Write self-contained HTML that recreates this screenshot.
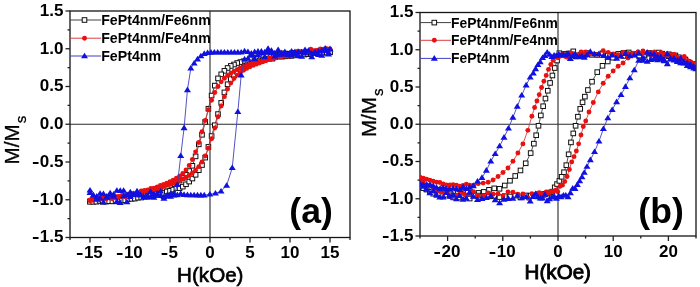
<!DOCTYPE html><html><head><meta charset="utf-8"><style>html,body{margin:0;padding:0;background:#fff;width:700px;height:287px;overflow:hidden}svg{display:block}</style></head><body>
<svg width="700" height="287" viewBox="0 0 700 287" font-family="'Liberation Sans', sans-serif" fill="#000">
<rect width="700" height="287" fill="#fff"/>
<defs><clipPath id="ca"><rect x="70" y="11" width="280" height="226.5"/></clipPath><clipPath id="cb"><rect x="420" y="12.5" width="276" height="223.5"/></clipPath></defs>
<line x1="70" y1="124.25" x2="350" y2="124.25" stroke="#2a2a2a" stroke-width="1.2"/>
<line x1="210.00" y1="11" x2="210.00" y2="237.5" stroke="#3a3a3a" stroke-width="1.2"/>
<rect x="70" y="11" width="280" height="226.5" fill="none" stroke="#151515" stroke-width="1.3"/>
<line x1="65.5" y1="237.50" x2="70" y2="237.50" stroke="#222" stroke-width="1.3"/>
<line x1="67.5" y1="218.62" x2="70" y2="218.62" stroke="#222" stroke-width="1.3"/>
<line x1="65.5" y1="199.75" x2="70" y2="199.75" stroke="#222" stroke-width="1.3"/>
<line x1="67.5" y1="180.88" x2="70" y2="180.88" stroke="#222" stroke-width="1.3"/>
<line x1="65.5" y1="162.00" x2="70" y2="162.00" stroke="#222" stroke-width="1.3"/>
<line x1="67.5" y1="143.12" x2="70" y2="143.12" stroke="#222" stroke-width="1.3"/>
<line x1="65.5" y1="124.25" x2="70" y2="124.25" stroke="#222" stroke-width="1.3"/>
<line x1="67.5" y1="105.38" x2="70" y2="105.38" stroke="#222" stroke-width="1.3"/>
<line x1="65.5" y1="86.50" x2="70" y2="86.50" stroke="#222" stroke-width="1.3"/>
<line x1="67.5" y1="67.62" x2="70" y2="67.62" stroke="#222" stroke-width="1.3"/>
<line x1="65.5" y1="48.75" x2="70" y2="48.75" stroke="#222" stroke-width="1.3"/>
<line x1="67.5" y1="29.88" x2="70" y2="29.88" stroke="#222" stroke-width="1.3"/>
<line x1="65.5" y1="11.00" x2="70" y2="11.00" stroke="#222" stroke-width="1.3"/>
<line x1="90.00" y1="237.5" x2="90.00" y2="242.5" stroke="#222" stroke-width="1.3"/>
<line x1="130.00" y1="237.5" x2="130.00" y2="242.5" stroke="#222" stroke-width="1.3"/>
<line x1="170.00" y1="237.5" x2="170.00" y2="242.5" stroke="#222" stroke-width="1.3"/>
<line x1="210.00" y1="237.5" x2="210.00" y2="242.5" stroke="#222" stroke-width="1.3"/>
<line x1="250.00" y1="237.5" x2="250.00" y2="242.5" stroke="#222" stroke-width="1.3"/>
<line x1="290.00" y1="237.5" x2="290.00" y2="242.5" stroke="#222" stroke-width="1.3"/>
<line x1="330.00" y1="237.5" x2="330.00" y2="242.5" stroke="#222" stroke-width="1.3"/>
<line x1="70.00" y1="237.5" x2="70.00" y2="240.0" stroke="#222" stroke-width="1.3"/>
<line x1="110.00" y1="237.5" x2="110.00" y2="240.0" stroke="#222" stroke-width="1.3"/>
<line x1="150.00" y1="237.5" x2="150.00" y2="240.0" stroke="#222" stroke-width="1.3"/>
<line x1="190.00" y1="237.5" x2="190.00" y2="240.0" stroke="#222" stroke-width="1.3"/>
<line x1="230.00" y1="237.5" x2="230.00" y2="240.0" stroke="#222" stroke-width="1.3"/>
<line x1="270.00" y1="237.5" x2="270.00" y2="240.0" stroke="#222" stroke-width="1.3"/>
<line x1="310.00" y1="237.5" x2="310.00" y2="240.0" stroke="#222" stroke-width="1.3"/>
<line x1="350.00" y1="237.5" x2="350.00" y2="240.0" stroke="#222" stroke-width="1.3"/>
<text x="63.50" y="242.30" text-anchor="end" font-weight="bold" font-size="17">1.5</text>
<text transform="translate(31.99,242.30) scale(1.32,0.92)" font-weight="bold" font-size="17">-</text>
<text x="63.50" y="204.55" text-anchor="end" font-weight="bold" font-size="17">1.0</text>
<text transform="translate(31.99,204.55) scale(1.32,0.92)" font-weight="bold" font-size="17">-</text>
<text x="63.50" y="166.80" text-anchor="end" font-weight="bold" font-size="17">0.5</text>
<text transform="translate(31.99,166.80) scale(1.32,0.92)" font-weight="bold" font-size="17">-</text>
<text x="63.50" y="129.05" text-anchor="end" font-weight="bold" font-size="17">0.0</text>
<text x="63.50" y="91.30" text-anchor="end" font-weight="bold" font-size="17">0.5</text>
<text x="63.50" y="53.55" text-anchor="end" font-weight="bold" font-size="17">1.0</text>
<text x="63.50" y="15.80" text-anchor="end" font-weight="bold" font-size="17">1.5</text>
<text x="83.90" y="258.1" font-weight="bold" font-size="17">15</text>
<text transform="translate(76.02,258.10) scale(1.32,0.92)" font-weight="bold" font-size="17">-</text>
<text x="123.90" y="258.1" font-weight="bold" font-size="17">10</text>
<text transform="translate(116.02,258.10) scale(1.32,0.92)" font-weight="bold" font-size="17">-</text>
<text x="168.62" y="258.1" font-weight="bold" font-size="17">5</text>
<text transform="translate(160.75,258.10) scale(1.32,0.92)" font-weight="bold" font-size="17">-</text>
<text x="210.00" y="258.1" text-anchor="middle" font-weight="bold" font-size="17">0</text>
<text x="250.00" y="258.1" text-anchor="middle" font-weight="bold" font-size="17">5</text>
<text x="290.00" y="258.1" text-anchor="middle" font-weight="bold" font-size="17">10</text>
<text x="330.00" y="258.1" text-anchor="middle" font-weight="bold" font-size="17">15</text>
<g clip-path="url(#ca)">
<path d="M330.00 52.15L326.80 52.02L323.60 52.31L320.40 52.64L317.20 52.50L314.00 52.82L310.80 52.43L307.60 51.96L304.40 52.90L301.20 53.08L298.00 52.71L294.80 52.90L291.60 53.16L288.40 53.78L285.20 53.56L282.00 53.47L278.80 54.67L275.60 54.58L272.40 55.59L269.20 55.70L266.00 56.38L262.80 56.20L259.60 57.34L256.40 57.50L253.20 58.41L250.00 59.38L246.80 60.93L243.60 61.25L240.40 62.07L237.20 63.03L234.00 64.50L230.80 65.94L227.60 67.97L224.40 70.83L221.20 74.33L218.00 78.38L214.80 85.61L211.60 95.56L208.40 108.72L205.20 121.89L202.00 134.78L198.80 144.32L195.60 156.38L192.40 165.77L189.20 171.04L186.00 174.83L182.80 177.97L179.60 180.54L176.40 182.67L173.20 184.14L170.00 185.83L166.80 187.67L163.60 188.55L160.40 189.49L157.20 190.81L154.00 191.39L150.80 192.59L147.60 193.04L144.40 193.41L141.20 195.02L138.00 195.23L134.80 196.10L131.60 196.37L128.40 197.46L125.20 197.66L122.00 197.95L118.80 197.90L115.60 198.23L112.40 199.77L109.20 199.94L106.00 199.68L102.80 201.25L99.60 200.91L96.40 201.08L93.20 200.78L90.00 201.33L90.00 201.79L93.20 201.80L96.40 201.72L99.60 200.88L102.80 201.72L106.00 201.60L109.20 201.23L112.40 201.36L115.60 201.28L118.80 201.43L122.00 200.55L125.20 200.29L128.40 199.08L131.60 198.83L134.80 198.60L138.00 197.69L141.20 197.51L144.40 196.21L147.60 196.01L150.80 195.04L154.00 195.14L157.20 193.62L160.40 193.75L163.60 193.08L166.80 191.43L170.00 190.77L173.20 189.55L176.40 188.12L179.60 188.13L182.80 186.65L186.00 184.27L189.20 181.57L192.40 178.53L195.60 174.79L198.80 170.18L202.00 165.03L205.20 157.62L208.40 146.90L211.60 136.06L214.80 125.21L218.00 114.07L221.20 102.84L224.40 92.40L227.60 84.23L230.80 79.05L234.00 75.17L237.20 72.04L240.40 69.47L243.60 67.38L246.80 65.48L250.00 64.22L253.20 62.44L256.40 62.02L259.60 60.51L262.80 60.20L266.00 58.99L269.20 58.59L272.40 58.66L275.60 57.05L278.80 56.46L282.00 56.65L285.20 56.34L288.40 55.90L291.60 55.90L294.80 54.62L298.00 55.04L301.20 54.49L304.40 54.52L307.60 54.15L310.80 54.15L314.00 52.73L317.20 53.10L320.40 52.35L323.60 52.55L326.80 52.66L330.00 52.30" fill="none" stroke="#404040" stroke-width="0.9"/>
<g fill="#fff" stroke="#111" stroke-width="1">
<rect x="327.70" y="49.85" width="4.6" height="4.6"/>
<rect x="324.50" y="49.72" width="4.6" height="4.6"/>
<rect x="321.30" y="50.01" width="4.6" height="4.6"/>
<rect x="318.10" y="50.34" width="4.6" height="4.6"/>
<rect x="314.90" y="50.20" width="4.6" height="4.6"/>
<rect x="311.70" y="50.52" width="4.6" height="4.6"/>
<rect x="308.50" y="50.13" width="4.6" height="4.6"/>
<rect x="305.30" y="49.66" width="4.6" height="4.6"/>
<rect x="302.10" y="50.60" width="4.6" height="4.6"/>
<rect x="298.90" y="50.78" width="4.6" height="4.6"/>
<rect x="295.70" y="50.41" width="4.6" height="4.6"/>
<rect x="292.50" y="50.60" width="4.6" height="4.6"/>
<rect x="289.30" y="50.86" width="4.6" height="4.6"/>
<rect x="286.10" y="51.48" width="4.6" height="4.6"/>
<rect x="282.90" y="51.26" width="4.6" height="4.6"/>
<rect x="279.70" y="51.17" width="4.6" height="4.6"/>
<rect x="276.50" y="52.37" width="4.6" height="4.6"/>
<rect x="273.30" y="52.28" width="4.6" height="4.6"/>
<rect x="270.10" y="53.29" width="4.6" height="4.6"/>
<rect x="266.90" y="53.40" width="4.6" height="4.6"/>
<rect x="263.70" y="54.08" width="4.6" height="4.6"/>
<rect x="260.50" y="53.90" width="4.6" height="4.6"/>
<rect x="257.30" y="55.04" width="4.6" height="4.6"/>
<rect x="254.10" y="55.20" width="4.6" height="4.6"/>
<rect x="250.90" y="56.11" width="4.6" height="4.6"/>
<rect x="247.70" y="57.08" width="4.6" height="4.6"/>
<rect x="244.50" y="58.63" width="4.6" height="4.6"/>
<rect x="241.30" y="58.95" width="4.6" height="4.6"/>
<rect x="238.10" y="59.77" width="4.6" height="4.6"/>
<rect x="234.90" y="60.73" width="4.6" height="4.6"/>
<rect x="231.70" y="62.20" width="4.6" height="4.6"/>
<rect x="228.50" y="63.64" width="4.6" height="4.6"/>
<rect x="225.30" y="65.67" width="4.6" height="4.6"/>
<rect x="222.10" y="68.53" width="4.6" height="4.6"/>
<rect x="218.90" y="72.03" width="4.6" height="4.6"/>
<rect x="215.70" y="76.08" width="4.6" height="4.6"/>
<rect x="212.50" y="83.31" width="4.6" height="4.6"/>
<rect x="209.30" y="93.26" width="4.6" height="4.6"/>
<rect x="206.10" y="106.42" width="4.6" height="4.6"/>
<rect x="202.90" y="119.59" width="4.6" height="4.6"/>
<rect x="199.70" y="132.48" width="4.6" height="4.6"/>
<rect x="196.50" y="142.02" width="4.6" height="4.6"/>
<rect x="193.30" y="154.08" width="4.6" height="4.6"/>
<rect x="190.10" y="163.47" width="4.6" height="4.6"/>
<rect x="186.90" y="168.74" width="4.6" height="4.6"/>
<rect x="183.70" y="172.53" width="4.6" height="4.6"/>
<rect x="180.50" y="175.67" width="4.6" height="4.6"/>
<rect x="177.30" y="178.24" width="4.6" height="4.6"/>
<rect x="174.10" y="180.37" width="4.6" height="4.6"/>
<rect x="170.90" y="181.84" width="4.6" height="4.6"/>
<rect x="167.70" y="183.53" width="4.6" height="4.6"/>
<rect x="164.50" y="185.37" width="4.6" height="4.6"/>
<rect x="161.30" y="186.25" width="4.6" height="4.6"/>
<rect x="158.10" y="187.19" width="4.6" height="4.6"/>
<rect x="154.90" y="188.51" width="4.6" height="4.6"/>
<rect x="151.70" y="189.09" width="4.6" height="4.6"/>
<rect x="148.50" y="190.29" width="4.6" height="4.6"/>
<rect x="145.30" y="190.74" width="4.6" height="4.6"/>
<rect x="142.10" y="191.11" width="4.6" height="4.6"/>
<rect x="138.90" y="192.72" width="4.6" height="4.6"/>
<rect x="135.70" y="192.93" width="4.6" height="4.6"/>
<rect x="132.50" y="193.80" width="4.6" height="4.6"/>
<rect x="129.30" y="194.07" width="4.6" height="4.6"/>
<rect x="126.10" y="195.16" width="4.6" height="4.6"/>
<rect x="122.90" y="195.36" width="4.6" height="4.6"/>
<rect x="119.70" y="195.65" width="4.6" height="4.6"/>
<rect x="116.50" y="195.60" width="4.6" height="4.6"/>
<rect x="113.30" y="195.93" width="4.6" height="4.6"/>
<rect x="110.10" y="197.47" width="4.6" height="4.6"/>
<rect x="106.90" y="197.64" width="4.6" height="4.6"/>
<rect x="103.70" y="197.38" width="4.6" height="4.6"/>
<rect x="100.50" y="198.95" width="4.6" height="4.6"/>
<rect x="97.30" y="198.61" width="4.6" height="4.6"/>
<rect x="94.10" y="198.78" width="4.6" height="4.6"/>
<rect x="90.90" y="198.48" width="4.6" height="4.6"/>
<rect x="87.70" y="199.03" width="4.6" height="4.6"/>
<rect x="87.70" y="199.49" width="4.6" height="4.6"/>
<rect x="90.90" y="199.50" width="4.6" height="4.6"/>
<rect x="94.10" y="199.42" width="4.6" height="4.6"/>
<rect x="97.30" y="198.58" width="4.6" height="4.6"/>
<rect x="100.50" y="199.42" width="4.6" height="4.6"/>
<rect x="103.70" y="199.30" width="4.6" height="4.6"/>
<rect x="106.90" y="198.93" width="4.6" height="4.6"/>
<rect x="110.10" y="199.06" width="4.6" height="4.6"/>
<rect x="113.30" y="198.98" width="4.6" height="4.6"/>
<rect x="116.50" y="199.13" width="4.6" height="4.6"/>
<rect x="119.70" y="198.25" width="4.6" height="4.6"/>
<rect x="122.90" y="197.99" width="4.6" height="4.6"/>
<rect x="126.10" y="196.78" width="4.6" height="4.6"/>
<rect x="129.30" y="196.53" width="4.6" height="4.6"/>
<rect x="132.50" y="196.30" width="4.6" height="4.6"/>
<rect x="135.70" y="195.39" width="4.6" height="4.6"/>
<rect x="138.90" y="195.21" width="4.6" height="4.6"/>
<rect x="142.10" y="193.91" width="4.6" height="4.6"/>
<rect x="145.30" y="193.71" width="4.6" height="4.6"/>
<rect x="148.50" y="192.74" width="4.6" height="4.6"/>
<rect x="151.70" y="192.84" width="4.6" height="4.6"/>
<rect x="154.90" y="191.32" width="4.6" height="4.6"/>
<rect x="158.10" y="191.45" width="4.6" height="4.6"/>
<rect x="161.30" y="190.78" width="4.6" height="4.6"/>
<rect x="164.50" y="189.13" width="4.6" height="4.6"/>
<rect x="167.70" y="188.47" width="4.6" height="4.6"/>
<rect x="170.90" y="187.25" width="4.6" height="4.6"/>
<rect x="174.10" y="185.82" width="4.6" height="4.6"/>
<rect x="177.30" y="185.83" width="4.6" height="4.6"/>
<rect x="180.50" y="184.35" width="4.6" height="4.6"/>
<rect x="183.70" y="181.97" width="4.6" height="4.6"/>
<rect x="186.90" y="179.27" width="4.6" height="4.6"/>
<rect x="190.10" y="176.23" width="4.6" height="4.6"/>
<rect x="193.30" y="172.49" width="4.6" height="4.6"/>
<rect x="196.50" y="167.88" width="4.6" height="4.6"/>
<rect x="199.70" y="162.73" width="4.6" height="4.6"/>
<rect x="202.90" y="155.32" width="4.6" height="4.6"/>
<rect x="206.10" y="144.60" width="4.6" height="4.6"/>
<rect x="209.30" y="133.76" width="4.6" height="4.6"/>
<rect x="212.50" y="122.91" width="4.6" height="4.6"/>
<rect x="215.70" y="111.77" width="4.6" height="4.6"/>
<rect x="218.90" y="100.54" width="4.6" height="4.6"/>
<rect x="222.10" y="90.10" width="4.6" height="4.6"/>
<rect x="225.30" y="81.93" width="4.6" height="4.6"/>
<rect x="228.50" y="76.75" width="4.6" height="4.6"/>
<rect x="231.70" y="72.87" width="4.6" height="4.6"/>
<rect x="234.90" y="69.74" width="4.6" height="4.6"/>
<rect x="238.10" y="67.17" width="4.6" height="4.6"/>
<rect x="241.30" y="65.08" width="4.6" height="4.6"/>
<rect x="244.50" y="63.18" width="4.6" height="4.6"/>
<rect x="247.70" y="61.92" width="4.6" height="4.6"/>
<rect x="250.90" y="60.14" width="4.6" height="4.6"/>
<rect x="254.10" y="59.72" width="4.6" height="4.6"/>
<rect x="257.30" y="58.21" width="4.6" height="4.6"/>
<rect x="260.50" y="57.90" width="4.6" height="4.6"/>
<rect x="263.70" y="56.69" width="4.6" height="4.6"/>
<rect x="266.90" y="56.29" width="4.6" height="4.6"/>
<rect x="270.10" y="56.36" width="4.6" height="4.6"/>
<rect x="273.30" y="54.75" width="4.6" height="4.6"/>
<rect x="276.50" y="54.16" width="4.6" height="4.6"/>
<rect x="279.70" y="54.35" width="4.6" height="4.6"/>
<rect x="282.90" y="54.04" width="4.6" height="4.6"/>
<rect x="286.10" y="53.60" width="4.6" height="4.6"/>
<rect x="289.30" y="53.60" width="4.6" height="4.6"/>
<rect x="292.50" y="52.32" width="4.6" height="4.6"/>
<rect x="295.70" y="52.74" width="4.6" height="4.6"/>
<rect x="298.90" y="52.19" width="4.6" height="4.6"/>
<rect x="302.10" y="52.22" width="4.6" height="4.6"/>
<rect x="305.30" y="51.85" width="4.6" height="4.6"/>
<rect x="308.50" y="51.85" width="4.6" height="4.6"/>
<rect x="311.70" y="50.43" width="4.6" height="4.6"/>
<rect x="314.90" y="50.80" width="4.6" height="4.6"/>
<rect x="318.10" y="50.05" width="4.6" height="4.6"/>
<rect x="321.30" y="50.25" width="4.6" height="4.6"/>
<rect x="324.50" y="50.36" width="4.6" height="4.6"/>
<rect x="327.70" y="50.00" width="4.6" height="4.6"/>
</g>
<path d="M330.00 48.98L326.80 48.81L323.60 49.38L320.40 49.62L317.20 50.76L314.00 50.67L310.80 49.19L307.60 51.34L304.40 52.06L301.20 51.46L298.00 51.14L294.80 53.82L291.60 53.43L288.40 54.34L285.20 55.82L282.00 54.63L278.80 55.88L275.60 56.57L272.40 57.81L269.20 58.03L266.00 59.33L262.80 60.10L259.60 61.29L256.40 62.24L253.20 63.06L250.00 64.28L246.80 65.49L243.60 66.77L240.40 68.14L237.20 69.64L234.00 71.31L230.80 73.23L227.60 75.50L224.40 78.29L221.20 81.85L218.00 86.47L214.80 92.51L211.60 100.24L208.40 109.69L205.20 120.48L202.00 131.76L198.80 142.49L195.60 151.86L192.40 159.49L189.20 165.42L186.00 169.95L182.80 173.41L179.60 176.11L176.40 178.29L173.20 180.11L170.00 181.69L166.80 183.09L163.60 184.37L160.40 185.44L157.20 186.85L154.00 188.12L150.80 188.40L147.60 190.02L144.40 190.48L141.20 190.83L138.00 193.10L134.80 194.26L131.60 193.33L128.40 194.14L125.20 194.98L122.00 195.34L118.80 196.57L115.60 197.57L112.40 197.03L109.20 198.09L106.00 199.01L102.80 197.78L99.60 198.57L96.40 198.56L93.20 199.93L90.00 199.98L90.00 200.70L93.20 200.35L96.40 199.26L99.60 199.70L102.80 198.51L106.00 198.18L109.20 196.54L112.40 198.72L115.60 196.57L118.80 196.85L122.00 196.31L125.20 196.87L128.40 195.57L131.60 194.07L134.80 194.07L138.00 193.28L141.20 192.83L144.40 191.19L147.60 191.11L150.80 191.29L154.00 189.65L157.20 189.07L160.40 188.24L163.60 186.52L166.80 185.28L170.00 184.22L173.20 183.01L176.40 181.73L179.60 180.36L182.80 178.86L186.00 177.19L189.20 175.27L192.40 173.00L195.60 170.21L198.80 166.65L202.00 162.03L205.20 155.99L208.40 148.26L211.60 138.81L214.80 128.02L218.00 116.74L221.20 106.01L224.40 96.64L227.60 89.01L230.80 83.08L234.00 78.55L237.20 75.09L240.40 72.39L243.60 70.21L246.80 68.39L250.00 66.81L253.20 65.41L256.40 64.13L259.60 63.03L262.80 61.89L266.00 60.85L269.20 59.43L272.40 58.76L275.60 58.03L278.80 56.35L282.00 56.76L285.20 55.94L288.40 56.32L291.60 53.14L294.80 52.98L298.00 52.44L301.20 52.08L304.40 51.99L307.60 51.43L310.80 51.34L314.00 50.88L317.20 50.30L320.40 48.83L323.60 49.21L326.80 49.36L330.00 49.46" fill="none" stroke="#d84040" stroke-width="0.9"/>
<g fill="#e81010">
<circle cx="330.00" cy="48.98" r="2.45"/>
<circle cx="326.80" cy="48.81" r="2.45"/>
<circle cx="323.60" cy="49.38" r="2.45"/>
<circle cx="320.40" cy="49.62" r="2.45"/>
<circle cx="317.20" cy="50.76" r="2.45"/>
<circle cx="314.00" cy="50.67" r="2.45"/>
<circle cx="310.80" cy="49.19" r="2.45"/>
<circle cx="307.60" cy="51.34" r="2.45"/>
<circle cx="304.40" cy="52.06" r="2.45"/>
<circle cx="301.20" cy="51.46" r="2.45"/>
<circle cx="298.00" cy="51.14" r="2.45"/>
<circle cx="294.80" cy="53.82" r="2.45"/>
<circle cx="291.60" cy="53.43" r="2.45"/>
<circle cx="288.40" cy="54.34" r="2.45"/>
<circle cx="285.20" cy="55.82" r="2.45"/>
<circle cx="282.00" cy="54.63" r="2.45"/>
<circle cx="278.80" cy="55.88" r="2.45"/>
<circle cx="275.60" cy="56.57" r="2.45"/>
<circle cx="272.40" cy="57.81" r="2.45"/>
<circle cx="269.20" cy="58.03" r="2.45"/>
<circle cx="266.00" cy="59.33" r="2.45"/>
<circle cx="262.80" cy="60.10" r="2.45"/>
<circle cx="259.60" cy="61.29" r="2.45"/>
<circle cx="256.40" cy="62.24" r="2.45"/>
<circle cx="253.20" cy="63.06" r="2.45"/>
<circle cx="250.00" cy="64.28" r="2.45"/>
<circle cx="246.80" cy="65.49" r="2.45"/>
<circle cx="243.60" cy="66.77" r="2.45"/>
<circle cx="240.40" cy="68.14" r="2.45"/>
<circle cx="237.20" cy="69.64" r="2.45"/>
<circle cx="234.00" cy="71.31" r="2.45"/>
<circle cx="230.80" cy="73.23" r="2.45"/>
<circle cx="227.60" cy="75.50" r="2.45"/>
<circle cx="224.40" cy="78.29" r="2.45"/>
<circle cx="221.20" cy="81.85" r="2.45"/>
<circle cx="218.00" cy="86.47" r="2.45"/>
<circle cx="214.80" cy="92.51" r="2.45"/>
<circle cx="211.60" cy="100.24" r="2.45"/>
<circle cx="208.40" cy="109.69" r="2.45"/>
<circle cx="205.20" cy="120.48" r="2.45"/>
<circle cx="202.00" cy="131.76" r="2.45"/>
<circle cx="198.80" cy="142.49" r="2.45"/>
<circle cx="195.60" cy="151.86" r="2.45"/>
<circle cx="192.40" cy="159.49" r="2.45"/>
<circle cx="189.20" cy="165.42" r="2.45"/>
<circle cx="186.00" cy="169.95" r="2.45"/>
<circle cx="182.80" cy="173.41" r="2.45"/>
<circle cx="179.60" cy="176.11" r="2.45"/>
<circle cx="176.40" cy="178.29" r="2.45"/>
<circle cx="173.20" cy="180.11" r="2.45"/>
<circle cx="170.00" cy="181.69" r="2.45"/>
<circle cx="166.80" cy="183.09" r="2.45"/>
<circle cx="163.60" cy="184.37" r="2.45"/>
<circle cx="160.40" cy="185.44" r="2.45"/>
<circle cx="157.20" cy="186.85" r="2.45"/>
<circle cx="154.00" cy="188.12" r="2.45"/>
<circle cx="150.80" cy="188.40" r="2.45"/>
<circle cx="147.60" cy="190.02" r="2.45"/>
<circle cx="144.40" cy="190.48" r="2.45"/>
<circle cx="141.20" cy="190.83" r="2.45"/>
<circle cx="138.00" cy="193.10" r="2.45"/>
<circle cx="134.80" cy="194.26" r="2.45"/>
<circle cx="131.60" cy="193.33" r="2.45"/>
<circle cx="128.40" cy="194.14" r="2.45"/>
<circle cx="125.20" cy="194.98" r="2.45"/>
<circle cx="122.00" cy="195.34" r="2.45"/>
<circle cx="118.80" cy="196.57" r="2.45"/>
<circle cx="115.60" cy="197.57" r="2.45"/>
<circle cx="112.40" cy="197.03" r="2.45"/>
<circle cx="109.20" cy="198.09" r="2.45"/>
<circle cx="106.00" cy="199.01" r="2.45"/>
<circle cx="102.80" cy="197.78" r="2.45"/>
<circle cx="99.60" cy="198.57" r="2.45"/>
<circle cx="96.40" cy="198.56" r="2.45"/>
<circle cx="93.20" cy="199.93" r="2.45"/>
<circle cx="90.00" cy="199.98" r="2.45"/>
<circle cx="90.00" cy="200.70" r="2.45"/>
<circle cx="93.20" cy="200.35" r="2.45"/>
<circle cx="96.40" cy="199.26" r="2.45"/>
<circle cx="99.60" cy="199.70" r="2.45"/>
<circle cx="102.80" cy="198.51" r="2.45"/>
<circle cx="106.00" cy="198.18" r="2.45"/>
<circle cx="109.20" cy="196.54" r="2.45"/>
<circle cx="112.40" cy="198.72" r="2.45"/>
<circle cx="115.60" cy="196.57" r="2.45"/>
<circle cx="118.80" cy="196.85" r="2.45"/>
<circle cx="122.00" cy="196.31" r="2.45"/>
<circle cx="125.20" cy="196.87" r="2.45"/>
<circle cx="128.40" cy="195.57" r="2.45"/>
<circle cx="131.60" cy="194.07" r="2.45"/>
<circle cx="134.80" cy="194.07" r="2.45"/>
<circle cx="138.00" cy="193.28" r="2.45"/>
<circle cx="141.20" cy="192.83" r="2.45"/>
<circle cx="144.40" cy="191.19" r="2.45"/>
<circle cx="147.60" cy="191.11" r="2.45"/>
<circle cx="150.80" cy="191.29" r="2.45"/>
<circle cx="154.00" cy="189.65" r="2.45"/>
<circle cx="157.20" cy="189.07" r="2.45"/>
<circle cx="160.40" cy="188.24" r="2.45"/>
<circle cx="163.60" cy="186.52" r="2.45"/>
<circle cx="166.80" cy="185.28" r="2.45"/>
<circle cx="170.00" cy="184.22" r="2.45"/>
<circle cx="173.20" cy="183.01" r="2.45"/>
<circle cx="176.40" cy="181.73" r="2.45"/>
<circle cx="179.60" cy="180.36" r="2.45"/>
<circle cx="182.80" cy="178.86" r="2.45"/>
<circle cx="186.00" cy="177.19" r="2.45"/>
<circle cx="189.20" cy="175.27" r="2.45"/>
<circle cx="192.40" cy="173.00" r="2.45"/>
<circle cx="195.60" cy="170.21" r="2.45"/>
<circle cx="198.80" cy="166.65" r="2.45"/>
<circle cx="202.00" cy="162.03" r="2.45"/>
<circle cx="205.20" cy="155.99" r="2.45"/>
<circle cx="208.40" cy="148.26" r="2.45"/>
<circle cx="211.60" cy="138.81" r="2.45"/>
<circle cx="214.80" cy="128.02" r="2.45"/>
<circle cx="218.00" cy="116.74" r="2.45"/>
<circle cx="221.20" cy="106.01" r="2.45"/>
<circle cx="224.40" cy="96.64" r="2.45"/>
<circle cx="227.60" cy="89.01" r="2.45"/>
<circle cx="230.80" cy="83.08" r="2.45"/>
<circle cx="234.00" cy="78.55" r="2.45"/>
<circle cx="237.20" cy="75.09" r="2.45"/>
<circle cx="240.40" cy="72.39" r="2.45"/>
<circle cx="243.60" cy="70.21" r="2.45"/>
<circle cx="246.80" cy="68.39" r="2.45"/>
<circle cx="250.00" cy="66.81" r="2.45"/>
<circle cx="253.20" cy="65.41" r="2.45"/>
<circle cx="256.40" cy="64.13" r="2.45"/>
<circle cx="259.60" cy="63.03" r="2.45"/>
<circle cx="262.80" cy="61.89" r="2.45"/>
<circle cx="266.00" cy="60.85" r="2.45"/>
<circle cx="269.20" cy="59.43" r="2.45"/>
<circle cx="272.40" cy="58.76" r="2.45"/>
<circle cx="275.60" cy="58.03" r="2.45"/>
<circle cx="278.80" cy="56.35" r="2.45"/>
<circle cx="282.00" cy="56.76" r="2.45"/>
<circle cx="285.20" cy="55.94" r="2.45"/>
<circle cx="288.40" cy="56.32" r="2.45"/>
<circle cx="291.60" cy="53.14" r="2.45"/>
<circle cx="294.80" cy="52.98" r="2.45"/>
<circle cx="298.00" cy="52.44" r="2.45"/>
<circle cx="301.20" cy="52.08" r="2.45"/>
<circle cx="304.40" cy="51.99" r="2.45"/>
<circle cx="307.60" cy="51.43" r="2.45"/>
<circle cx="310.80" cy="51.34" r="2.45"/>
<circle cx="314.00" cy="50.88" r="2.45"/>
<circle cx="317.20" cy="50.30" r="2.45"/>
<circle cx="320.40" cy="48.83" r="2.45"/>
<circle cx="323.60" cy="49.21" r="2.45"/>
<circle cx="326.80" cy="49.36" r="2.45"/>
<circle cx="330.00" cy="49.46" r="2.45"/>
</g>
<path d="M328.56 52.59L325.20 48.37L321.84 50.44L318.48 51.27L315.12 52.06L311.76 53.51L308.40 51.55L305.04 49.78L301.68 52.18L298.32 51.88L294.96 51.88L291.60 51.27L288.24 54.50L284.88 51.95L281.52 53.14L278.16 49.87L274.80 53.02L271.44 50.49L268.08 48.73L264.72 52.22L261.36 52.84L258.00 51.45L254.64 51.94L251.28 53.41L247.92 51.75L244.56 51.19L241.20 52.37L237.84 52.34L234.48 52.34L231.12 52.33L227.76 52.33L224.40 52.34L221.04 52.34L217.68 52.36L214.32 52.37L210.96 52.47L207.60 52.75L204.24 53.70L200.88 56.03L197.52 59.14L194.16 63.25L190.80 68.33L187.44 89.92L184.08 127.91L180.72 155.88L177.36 184.74L174.00 195.35L170.64 196.49L167.28 194.96L163.92 196.88L160.56 195.74L157.20 195.57L153.84 197.44L150.48 196.73L147.12 196.04L143.76 196.98L140.40 195.26L137.04 191.17L133.68 195.08L130.32 196.74L126.96 202.03L123.60 195.80L120.24 202.88L116.88 201.28L113.52 194.46L110.16 194.93L106.80 197.53L103.44 202.25L100.08 198.22L96.72 199.15L93.36 195.18L90.00 190.29L90.00 192.76L93.36 195.40L96.72 196.44L100.08 193.50L103.44 193.83L106.80 196.42L110.16 193.08L113.52 196.45L116.88 190.49L120.24 190.64L123.60 190.61L126.96 194.76L130.32 192.18L133.68 193.92L137.04 194.63L140.40 194.54L143.76 197.12L147.12 197.54L150.48 191.68L153.84 194.33L157.20 193.30L160.56 191.28L163.92 198.56L167.28 196.11L170.64 193.66L174.00 193.45L177.36 194.94L180.72 193.70L184.08 194.71L187.44 194.89L190.80 194.99L194.16 195.08L197.52 195.16L200.88 195.21L204.24 195.21L209.84 194.29L215.44 193.29L221.04 191.28L226.64 185.51L232.24 167.79L237.84 111.81L241.20 75.25L244.56 59.16L247.92 58.51L251.28 55.07L254.64 58.90L258.00 55.05L261.36 51.28L264.72 57.06L268.08 50.81L271.44 52.67L274.80 56.25L278.16 54.76L281.52 54.60L284.88 53.48L288.24 54.72L291.60 55.45L294.96 54.02L298.32 55.89L301.68 56.54L305.04 53.22L308.40 50.72L311.76 57.06L315.12 52.98L318.48 54.68L321.84 55.52L325.20 50.67L328.56 54.28L330.00 48.95" fill="none" stroke="#4040c0" stroke-width="0.9"/>
<g fill="#1010e0">
<path d="M328.56 49.23L332.06 54.83L325.06 54.83Z"/>
<path d="M325.20 45.01L328.70 50.61L321.70 50.61Z"/>
<path d="M321.84 47.08L325.34 52.68L318.34 52.68Z"/>
<path d="M318.48 47.91L321.98 53.51L314.98 53.51Z"/>
<path d="M315.12 48.70L318.62 54.30L311.62 54.30Z"/>
<path d="M311.76 50.15L315.26 55.75L308.26 55.75Z"/>
<path d="M308.40 48.19L311.90 53.79L304.90 53.79Z"/>
<path d="M305.04 46.42L308.54 52.02L301.54 52.02Z"/>
<path d="M301.68 48.82L305.18 54.42L298.18 54.42Z"/>
<path d="M298.32 48.52L301.82 54.12L294.82 54.12Z"/>
<path d="M294.96 48.52L298.46 54.12L291.46 54.12Z"/>
<path d="M291.60 47.91L295.10 53.51L288.10 53.51Z"/>
<path d="M288.24 51.14L291.74 56.74L284.74 56.74Z"/>
<path d="M284.88 48.59L288.38 54.19L281.38 54.19Z"/>
<path d="M281.52 49.78L285.02 55.38L278.02 55.38Z"/>
<path d="M278.16 46.51L281.66 52.11L274.66 52.11Z"/>
<path d="M274.80 49.66L278.30 55.26L271.30 55.26Z"/>
<path d="M271.44 47.13L274.94 52.73L267.94 52.73Z"/>
<path d="M268.08 45.37L271.58 50.97L264.58 50.97Z"/>
<path d="M264.72 48.86L268.22 54.46L261.22 54.46Z"/>
<path d="M261.36 49.48L264.86 55.08L257.86 55.08Z"/>
<path d="M258.00 48.09L261.50 53.69L254.50 53.69Z"/>
<path d="M254.64 48.58L258.14 54.18L251.14 54.18Z"/>
<path d="M251.28 50.05L254.78 55.65L247.78 55.65Z"/>
<path d="M247.92 48.39L251.42 53.99L244.42 53.99Z"/>
<path d="M244.56 47.83L248.06 53.43L241.06 53.43Z"/>
<path d="M241.20 49.01L244.70 54.61L237.70 54.61Z"/>
<path d="M237.84 48.98L241.34 54.58L234.34 54.58Z"/>
<path d="M234.48 48.98L237.98 54.58L230.98 54.58Z"/>
<path d="M231.12 48.97L234.62 54.57L227.62 54.57Z"/>
<path d="M227.76 48.97L231.26 54.57L224.26 54.57Z"/>
<path d="M224.40 48.98L227.90 54.58L220.90 54.58Z"/>
<path d="M221.04 48.98L224.54 54.58L217.54 54.58Z"/>
<path d="M217.68 49.00L221.18 54.60L214.18 54.60Z"/>
<path d="M214.32 49.01L217.82 54.61L210.82 54.61Z"/>
<path d="M210.96 49.11L214.46 54.71L207.46 54.71Z"/>
<path d="M207.60 49.39L211.10 54.99L204.10 54.99Z"/>
<path d="M204.24 50.34L207.74 55.94L200.74 55.94Z"/>
<path d="M200.88 52.67L204.38 58.27L197.38 58.27Z"/>
<path d="M197.52 55.78L201.02 61.38L194.02 61.38Z"/>
<path d="M194.16 59.89L197.66 65.49L190.66 65.49Z"/>
<path d="M190.80 64.97L194.30 70.57L187.30 70.57Z"/>
<path d="M187.44 86.56L190.94 92.16L183.94 92.16Z"/>
<path d="M184.08 124.55L187.58 130.15L180.58 130.15Z"/>
<path d="M180.72 152.52L184.22 158.12L177.22 158.12Z"/>
<path d="M177.36 181.38L180.86 186.98L173.86 186.98Z"/>
<path d="M174.00 191.99L177.50 197.59L170.50 197.59Z"/>
<path d="M170.64 193.13L174.14 198.73L167.14 198.73Z"/>
<path d="M167.28 191.60L170.78 197.20L163.78 197.20Z"/>
<path d="M163.92 193.52L167.42 199.12L160.42 199.12Z"/>
<path d="M160.56 192.38L164.06 197.98L157.06 197.98Z"/>
<path d="M157.20 192.21L160.70 197.81L153.70 197.81Z"/>
<path d="M153.84 194.08L157.34 199.68L150.34 199.68Z"/>
<path d="M150.48 193.37L153.98 198.97L146.98 198.97Z"/>
<path d="M147.12 192.68L150.62 198.28L143.62 198.28Z"/>
<path d="M143.76 193.62L147.26 199.22L140.26 199.22Z"/>
<path d="M140.40 191.90L143.90 197.50L136.90 197.50Z"/>
<path d="M137.04 187.81L140.54 193.41L133.54 193.41Z"/>
<path d="M133.68 191.72L137.18 197.32L130.18 197.32Z"/>
<path d="M130.32 193.38L133.82 198.98L126.82 198.98Z"/>
<path d="M126.96 198.67L130.46 204.27L123.46 204.27Z"/>
<path d="M123.60 192.44L127.10 198.04L120.10 198.04Z"/>
<path d="M120.24 199.52L123.74 205.12L116.74 205.12Z"/>
<path d="M116.88 197.92L120.38 203.52L113.38 203.52Z"/>
<path d="M113.52 191.10L117.02 196.70L110.02 196.70Z"/>
<path d="M110.16 191.57L113.66 197.17L106.66 197.17Z"/>
<path d="M106.80 194.17L110.30 199.77L103.30 199.77Z"/>
<path d="M103.44 198.89L106.94 204.49L99.94 204.49Z"/>
<path d="M100.08 194.86L103.58 200.46L96.58 200.46Z"/>
<path d="M96.72 195.79L100.22 201.39L93.22 201.39Z"/>
<path d="M93.36 191.82L96.86 197.42L89.86 197.42Z"/>
<path d="M90.00 186.93L93.50 192.53L86.50 192.53Z"/>
<path d="M90.00 189.40L93.50 195.00L86.50 195.00Z"/>
<path d="M93.36 192.04L96.86 197.64L89.86 197.64Z"/>
<path d="M96.72 193.08L100.22 198.68L93.22 198.68Z"/>
<path d="M100.08 190.14L103.58 195.74L96.58 195.74Z"/>
<path d="M103.44 190.47L106.94 196.07L99.94 196.07Z"/>
<path d="M106.80 193.06L110.30 198.66L103.30 198.66Z"/>
<path d="M110.16 189.72L113.66 195.32L106.66 195.32Z"/>
<path d="M113.52 193.09L117.02 198.69L110.02 198.69Z"/>
<path d="M116.88 187.13L120.38 192.73L113.38 192.73Z"/>
<path d="M120.24 187.28L123.74 192.88L116.74 192.88Z"/>
<path d="M123.60 187.25L127.10 192.85L120.10 192.85Z"/>
<path d="M126.96 191.40L130.46 197.00L123.46 197.00Z"/>
<path d="M130.32 188.82L133.82 194.42L126.82 194.42Z"/>
<path d="M133.68 190.56L137.18 196.16L130.18 196.16Z"/>
<path d="M137.04 191.27L140.54 196.87L133.54 196.87Z"/>
<path d="M140.40 191.18L143.90 196.78L136.90 196.78Z"/>
<path d="M143.76 193.76L147.26 199.36L140.26 199.36Z"/>
<path d="M147.12 194.18L150.62 199.78L143.62 199.78Z"/>
<path d="M150.48 188.32L153.98 193.92L146.98 193.92Z"/>
<path d="M153.84 190.97L157.34 196.57L150.34 196.57Z"/>
<path d="M157.20 189.94L160.70 195.54L153.70 195.54Z"/>
<path d="M160.56 187.92L164.06 193.52L157.06 193.52Z"/>
<path d="M163.92 195.20L167.42 200.80L160.42 200.80Z"/>
<path d="M167.28 192.75L170.78 198.35L163.78 198.35Z"/>
<path d="M170.64 190.30L174.14 195.90L167.14 195.90Z"/>
<path d="M174.00 190.09L177.50 195.69L170.50 195.69Z"/>
<path d="M177.36 191.58L180.86 197.18L173.86 197.18Z"/>
<path d="M180.72 190.34L184.22 195.94L177.22 195.94Z"/>
<path d="M184.08 191.35L187.58 196.95L180.58 196.95Z"/>
<path d="M187.44 191.53L190.94 197.13L183.94 197.13Z"/>
<path d="M190.80 191.63L194.30 197.23L187.30 197.23Z"/>
<path d="M194.16 191.72L197.66 197.32L190.66 197.32Z"/>
<path d="M197.52 191.80L201.02 197.40L194.02 197.40Z"/>
<path d="M200.88 191.85L204.38 197.45L197.38 197.45Z"/>
<path d="M204.24 191.85L207.74 197.45L200.74 197.45Z"/>
<path d="M209.84 190.93L213.34 196.53L206.34 196.53Z"/>
<path d="M215.44 189.93L218.94 195.53L211.94 195.53Z"/>
<path d="M221.04 187.92L224.54 193.52L217.54 193.52Z"/>
<path d="M226.64 182.15L230.14 187.75L223.14 187.75Z"/>
<path d="M232.24 164.43L235.74 170.03L228.74 170.03Z"/>
<path d="M237.84 108.45L241.34 114.05L234.34 114.05Z"/>
<path d="M241.20 71.89L244.70 77.49L237.70 77.49Z"/>
<path d="M244.56 55.80L248.06 61.40L241.06 61.40Z"/>
<path d="M247.92 55.15L251.42 60.75L244.42 60.75Z"/>
<path d="M251.28 51.71L254.78 57.31L247.78 57.31Z"/>
<path d="M254.64 55.54L258.14 61.14L251.14 61.14Z"/>
<path d="M258.00 51.69L261.50 57.29L254.50 57.29Z"/>
<path d="M261.36 47.92L264.86 53.52L257.86 53.52Z"/>
<path d="M264.72 53.70L268.22 59.30L261.22 59.30Z"/>
<path d="M268.08 47.45L271.58 53.05L264.58 53.05Z"/>
<path d="M271.44 49.31L274.94 54.91L267.94 54.91Z"/>
<path d="M274.80 52.89L278.30 58.49L271.30 58.49Z"/>
<path d="M278.16 51.40L281.66 57.00L274.66 57.00Z"/>
<path d="M281.52 51.24L285.02 56.84L278.02 56.84Z"/>
<path d="M284.88 50.12L288.38 55.72L281.38 55.72Z"/>
<path d="M288.24 51.36L291.74 56.96L284.74 56.96Z"/>
<path d="M291.60 52.09L295.10 57.69L288.10 57.69Z"/>
<path d="M294.96 50.66L298.46 56.26L291.46 56.26Z"/>
<path d="M298.32 52.53L301.82 58.13L294.82 58.13Z"/>
<path d="M301.68 53.18L305.18 58.78L298.18 58.78Z"/>
<path d="M305.04 49.86L308.54 55.46L301.54 55.46Z"/>
<path d="M308.40 47.36L311.90 52.96L304.90 52.96Z"/>
<path d="M311.76 53.70L315.26 59.30L308.26 59.30Z"/>
<path d="M315.12 49.62L318.62 55.22L311.62 55.22Z"/>
<path d="M318.48 51.32L321.98 56.92L314.98 56.92Z"/>
<path d="M321.84 52.16L325.34 57.76L318.34 57.76Z"/>
<path d="M325.20 47.31L328.70 52.91L321.70 52.91Z"/>
<path d="M328.56 50.92L332.06 56.52L325.06 56.52Z"/>
<path d="M330.00 45.59L333.50 51.19L326.50 51.19Z"/>
</g>
</g>
<line x1="420" y1="124.25" x2="696" y2="124.25" stroke="#2a2a2a" stroke-width="1.2"/>
<line x1="558.00" y1="12.5" x2="558.00" y2="236" stroke="#3a3a3a" stroke-width="1.2"/>
<rect x="420" y="12.5" width="276" height="223.5" fill="none" stroke="#151515" stroke-width="1.3"/>
<line x1="415.5" y1="236.00" x2="420" y2="236.00" stroke="#222" stroke-width="1.3"/>
<line x1="417.5" y1="217.38" x2="420" y2="217.38" stroke="#222" stroke-width="1.3"/>
<line x1="415.5" y1="198.75" x2="420" y2="198.75" stroke="#222" stroke-width="1.3"/>
<line x1="417.5" y1="180.12" x2="420" y2="180.12" stroke="#222" stroke-width="1.3"/>
<line x1="415.5" y1="161.50" x2="420" y2="161.50" stroke="#222" stroke-width="1.3"/>
<line x1="417.5" y1="142.88" x2="420" y2="142.88" stroke="#222" stroke-width="1.3"/>
<line x1="415.5" y1="124.25" x2="420" y2="124.25" stroke="#222" stroke-width="1.3"/>
<line x1="417.5" y1="105.62" x2="420" y2="105.62" stroke="#222" stroke-width="1.3"/>
<line x1="415.5" y1="87.00" x2="420" y2="87.00" stroke="#222" stroke-width="1.3"/>
<line x1="417.5" y1="68.38" x2="420" y2="68.38" stroke="#222" stroke-width="1.3"/>
<line x1="415.5" y1="49.75" x2="420" y2="49.75" stroke="#222" stroke-width="1.3"/>
<line x1="417.5" y1="31.12" x2="420" y2="31.12" stroke="#222" stroke-width="1.3"/>
<line x1="415.5" y1="12.50" x2="420" y2="12.50" stroke="#222" stroke-width="1.3"/>
<line x1="447.60" y1="236" x2="447.60" y2="241" stroke="#222" stroke-width="1.3"/>
<line x1="502.80" y1="236" x2="502.80" y2="241" stroke="#222" stroke-width="1.3"/>
<line x1="558.00" y1="236" x2="558.00" y2="241" stroke="#222" stroke-width="1.3"/>
<line x1="613.20" y1="236" x2="613.20" y2="241" stroke="#222" stroke-width="1.3"/>
<line x1="668.40" y1="236" x2="668.40" y2="241" stroke="#222" stroke-width="1.3"/>
<line x1="420.00" y1="236" x2="420.00" y2="238.5" stroke="#222" stroke-width="1.3"/>
<line x1="475.20" y1="236" x2="475.20" y2="238.5" stroke="#222" stroke-width="1.3"/>
<line x1="530.40" y1="236" x2="530.40" y2="238.5" stroke="#222" stroke-width="1.3"/>
<line x1="585.60" y1="236" x2="585.60" y2="238.5" stroke="#222" stroke-width="1.3"/>
<line x1="640.80" y1="236" x2="640.80" y2="238.5" stroke="#222" stroke-width="1.3"/>
<line x1="696.00" y1="236" x2="696.00" y2="238.5" stroke="#222" stroke-width="1.3"/>
<text x="413.50" y="240.80" text-anchor="end" font-weight="bold" font-size="17">1.5</text>
<text transform="translate(381.99,240.80) scale(1.32,0.92)" font-weight="bold" font-size="17">-</text>
<text x="413.50" y="203.55" text-anchor="end" font-weight="bold" font-size="17">1.0</text>
<text transform="translate(381.99,203.55) scale(1.32,0.92)" font-weight="bold" font-size="17">-</text>
<text x="413.50" y="166.30" text-anchor="end" font-weight="bold" font-size="17">0.5</text>
<text transform="translate(381.99,166.30) scale(1.32,0.92)" font-weight="bold" font-size="17">-</text>
<text x="413.50" y="129.05" text-anchor="end" font-weight="bold" font-size="17">0.0</text>
<text x="413.50" y="91.80" text-anchor="end" font-weight="bold" font-size="17">0.5</text>
<text x="413.50" y="54.55" text-anchor="end" font-weight="bold" font-size="17">1.0</text>
<text x="413.50" y="17.30" text-anchor="end" font-weight="bold" font-size="17">1.5</text>
<text x="441.50" y="256.8" font-weight="bold" font-size="17">20</text>
<text transform="translate(433.62,256.80) scale(1.32,0.92)" font-weight="bold" font-size="17">-</text>
<text x="496.70" y="256.8" font-weight="bold" font-size="17">10</text>
<text transform="translate(488.82,256.80) scale(1.32,0.92)" font-weight="bold" font-size="17">-</text>
<text x="558.00" y="256.8" text-anchor="middle" font-weight="bold" font-size="17">0</text>
<text x="613.20" y="256.8" text-anchor="middle" font-weight="bold" font-size="17">10</text>
<text x="668.40" y="256.8" text-anchor="middle" font-weight="bold" font-size="17">20</text>
<g clip-path="url(#cb)">
<path d="M696.00 66.35L695.27 65.61L691.95 64.04L688.64 62.80L685.33 60.20L682.02 59.64L678.71 57.78L675.39 57.69L672.08 58.26L668.77 56.21L665.46 55.38L662.15 53.68L658.83 55.88L655.52 54.58L652.21 56.74L648.84 53.46L644.45 55.67L639.21 56.53L633.96 54.09L628.72 52.46L623.47 55.93L618.23 55.32L612.99 54.84L607.74 55.36L602.50 53.34L597.25 54.93L592.01 54.82L587.90 53.07L584.87 54.86L582.55 53.27L580.23 55.15L577.91 55.47L575.59 56.31L573.28 51.35L570.96 54.28L568.64 53.52L566.32 54.00L564.00 54.06L561.68 54.79L559.37 53.19L557.05 60.51L554.73 68.01L552.41 75.50L550.09 82.94L547.77 90.74L545.45 98.57L543.14 106.23L540.82 115.42L538.50 125.78L536.18 135.26L533.86 143.65L530.66 153.08L525.71 163.30L520.47 170.46L515.22 175.95L509.98 180.75L504.74 185.50L499.49 188.78L494.25 188.35L489.00 189.81L483.76 191.90L478.52 192.90L473.64 194.51L469.68 192.57L466.37 192.04L463.06 192.00L459.74 191.85L456.43 193.02L453.12 191.39L449.81 191.06L446.50 188.98L443.18 187.88L439.87 189.74L436.56 189.89L433.25 188.60L429.94 188.54L426.62 188.02L423.31 186.79L420.00 186.83L420.00 185.65L423.31 188.14L426.62 189.57L429.94 191.70L433.25 193.69L436.56 194.81L439.87 194.40L443.18 195.31L446.50 194.68L449.81 195.35L453.12 197.42L456.43 195.65L459.74 197.57L463.06 196.60L466.37 196.16L469.68 198.55L473.64 195.65L478.52 195.57L483.76 195.98L489.00 196.34L494.25 196.27L499.49 197.08L504.74 196.13L509.98 196.51L515.22 195.65L520.47 197.38L525.71 195.45L530.66 195.58L533.86 195.90L536.18 196.17L538.50 194.65L540.82 197.35L543.14 194.13L545.45 193.96L547.77 193.34L550.09 192.53L552.41 191.65L554.73 187.35L557.05 184.06L559.37 180.92L561.68 176.80L564.00 172.24L566.32 165.18L568.64 154.31L570.96 142.40L573.28 133.42L575.59 125.78L577.91 116.71L580.23 108.84L582.55 102.29L584.87 96.63L587.90 90.02L592.01 81.68L597.25 72.12L602.50 65.79L607.74 61.46L612.99 57.69L618.23 53.87L623.47 52.92L628.72 54.63L633.96 54.40L639.21 55.55L644.45 54.78L648.84 53.28L652.21 53.32L655.52 53.70L658.83 52.54L662.15 55.17L665.46 54.68L668.77 54.28L672.08 55.25L675.39 55.45L678.71 57.25L682.02 59.05L685.33 59.48L688.64 62.06L691.95 63.80L695.27 64.00L696.00 64.67" fill="none" stroke="#404040" stroke-width="0.9"/>
<g fill="#fff" stroke="#111" stroke-width="1">
<rect x="693.70" y="64.05" width="4.6" height="4.6"/>
<rect x="692.97" y="63.31" width="4.6" height="4.6"/>
<rect x="689.65" y="61.74" width="4.6" height="4.6"/>
<rect x="686.34" y="60.50" width="4.6" height="4.6"/>
<rect x="683.03" y="57.90" width="4.6" height="4.6"/>
<rect x="679.72" y="57.34" width="4.6" height="4.6"/>
<rect x="676.41" y="55.48" width="4.6" height="4.6"/>
<rect x="673.09" y="55.39" width="4.6" height="4.6"/>
<rect x="669.78" y="55.96" width="4.6" height="4.6"/>
<rect x="666.47" y="53.91" width="4.6" height="4.6"/>
<rect x="663.16" y="53.08" width="4.6" height="4.6"/>
<rect x="659.85" y="51.38" width="4.6" height="4.6"/>
<rect x="656.53" y="53.58" width="4.6" height="4.6"/>
<rect x="653.22" y="52.28" width="4.6" height="4.6"/>
<rect x="649.91" y="54.44" width="4.6" height="4.6"/>
<rect x="646.54" y="51.16" width="4.6" height="4.6"/>
<rect x="642.15" y="53.37" width="4.6" height="4.6"/>
<rect x="636.91" y="54.23" width="4.6" height="4.6"/>
<rect x="631.66" y="51.79" width="4.6" height="4.6"/>
<rect x="626.42" y="50.16" width="4.6" height="4.6"/>
<rect x="621.17" y="53.63" width="4.6" height="4.6"/>
<rect x="615.93" y="53.02" width="4.6" height="4.6"/>
<rect x="610.69" y="52.54" width="4.6" height="4.6"/>
<rect x="605.44" y="53.06" width="4.6" height="4.6"/>
<rect x="600.20" y="51.04" width="4.6" height="4.6"/>
<rect x="594.95" y="52.63" width="4.6" height="4.6"/>
<rect x="589.71" y="52.52" width="4.6" height="4.6"/>
<rect x="585.60" y="50.77" width="4.6" height="4.6"/>
<rect x="582.57" y="52.56" width="4.6" height="4.6"/>
<rect x="580.25" y="50.97" width="4.6" height="4.6"/>
<rect x="577.93" y="52.85" width="4.6" height="4.6"/>
<rect x="575.61" y="53.17" width="4.6" height="4.6"/>
<rect x="573.29" y="54.01" width="4.6" height="4.6"/>
<rect x="570.98" y="49.05" width="4.6" height="4.6"/>
<rect x="568.66" y="51.98" width="4.6" height="4.6"/>
<rect x="566.34" y="51.22" width="4.6" height="4.6"/>
<rect x="564.02" y="51.70" width="4.6" height="4.6"/>
<rect x="561.70" y="51.76" width="4.6" height="4.6"/>
<rect x="559.38" y="52.49" width="4.6" height="4.6"/>
<rect x="557.07" y="50.89" width="4.6" height="4.6"/>
<rect x="554.75" y="58.21" width="4.6" height="4.6"/>
<rect x="552.43" y="65.71" width="4.6" height="4.6"/>
<rect x="550.11" y="73.20" width="4.6" height="4.6"/>
<rect x="547.79" y="80.64" width="4.6" height="4.6"/>
<rect x="545.47" y="88.44" width="4.6" height="4.6"/>
<rect x="543.15" y="96.27" width="4.6" height="4.6"/>
<rect x="540.84" y="103.93" width="4.6" height="4.6"/>
<rect x="538.52" y="113.12" width="4.6" height="4.6"/>
<rect x="536.20" y="123.48" width="4.6" height="4.6"/>
<rect x="533.88" y="132.96" width="4.6" height="4.6"/>
<rect x="531.56" y="141.35" width="4.6" height="4.6"/>
<rect x="528.36" y="150.78" width="4.6" height="4.6"/>
<rect x="523.41" y="161.00" width="4.6" height="4.6"/>
<rect x="518.17" y="168.16" width="4.6" height="4.6"/>
<rect x="512.92" y="173.65" width="4.6" height="4.6"/>
<rect x="507.68" y="178.45" width="4.6" height="4.6"/>
<rect x="502.44" y="183.20" width="4.6" height="4.6"/>
<rect x="497.19" y="186.48" width="4.6" height="4.6"/>
<rect x="491.95" y="186.05" width="4.6" height="4.6"/>
<rect x="486.70" y="187.51" width="4.6" height="4.6"/>
<rect x="481.46" y="189.60" width="4.6" height="4.6"/>
<rect x="476.22" y="190.60" width="4.6" height="4.6"/>
<rect x="471.34" y="192.21" width="4.6" height="4.6"/>
<rect x="467.38" y="190.27" width="4.6" height="4.6"/>
<rect x="464.07" y="189.74" width="4.6" height="4.6"/>
<rect x="460.76" y="189.70" width="4.6" height="4.6"/>
<rect x="457.44" y="189.55" width="4.6" height="4.6"/>
<rect x="454.13" y="190.72" width="4.6" height="4.6"/>
<rect x="450.82" y="189.09" width="4.6" height="4.6"/>
<rect x="447.51" y="188.76" width="4.6" height="4.6"/>
<rect x="444.20" y="186.68" width="4.6" height="4.6"/>
<rect x="440.88" y="185.58" width="4.6" height="4.6"/>
<rect x="437.57" y="187.44" width="4.6" height="4.6"/>
<rect x="434.26" y="187.59" width="4.6" height="4.6"/>
<rect x="430.95" y="186.30" width="4.6" height="4.6"/>
<rect x="427.64" y="186.24" width="4.6" height="4.6"/>
<rect x="424.32" y="185.72" width="4.6" height="4.6"/>
<rect x="421.01" y="184.49" width="4.6" height="4.6"/>
<rect x="417.70" y="184.53" width="4.6" height="4.6"/>
<rect x="417.70" y="183.35" width="4.6" height="4.6"/>
<rect x="421.01" y="185.84" width="4.6" height="4.6"/>
<rect x="424.32" y="187.27" width="4.6" height="4.6"/>
<rect x="427.64" y="189.40" width="4.6" height="4.6"/>
<rect x="430.95" y="191.39" width="4.6" height="4.6"/>
<rect x="434.26" y="192.51" width="4.6" height="4.6"/>
<rect x="437.57" y="192.10" width="4.6" height="4.6"/>
<rect x="440.88" y="193.01" width="4.6" height="4.6"/>
<rect x="444.20" y="192.38" width="4.6" height="4.6"/>
<rect x="447.51" y="193.05" width="4.6" height="4.6"/>
<rect x="450.82" y="195.12" width="4.6" height="4.6"/>
<rect x="454.13" y="193.35" width="4.6" height="4.6"/>
<rect x="457.44" y="195.27" width="4.6" height="4.6"/>
<rect x="460.76" y="194.30" width="4.6" height="4.6"/>
<rect x="464.07" y="193.86" width="4.6" height="4.6"/>
<rect x="467.38" y="196.25" width="4.6" height="4.6"/>
<rect x="471.34" y="193.35" width="4.6" height="4.6"/>
<rect x="476.22" y="193.27" width="4.6" height="4.6"/>
<rect x="481.46" y="193.68" width="4.6" height="4.6"/>
<rect x="486.70" y="194.04" width="4.6" height="4.6"/>
<rect x="491.95" y="193.97" width="4.6" height="4.6"/>
<rect x="497.19" y="194.78" width="4.6" height="4.6"/>
<rect x="502.44" y="193.83" width="4.6" height="4.6"/>
<rect x="507.68" y="194.21" width="4.6" height="4.6"/>
<rect x="512.92" y="193.35" width="4.6" height="4.6"/>
<rect x="518.17" y="195.08" width="4.6" height="4.6"/>
<rect x="523.41" y="193.15" width="4.6" height="4.6"/>
<rect x="528.36" y="193.28" width="4.6" height="4.6"/>
<rect x="531.56" y="193.60" width="4.6" height="4.6"/>
<rect x="533.88" y="193.87" width="4.6" height="4.6"/>
<rect x="536.20" y="192.35" width="4.6" height="4.6"/>
<rect x="538.52" y="195.05" width="4.6" height="4.6"/>
<rect x="540.84" y="191.83" width="4.6" height="4.6"/>
<rect x="543.15" y="191.66" width="4.6" height="4.6"/>
<rect x="545.47" y="191.04" width="4.6" height="4.6"/>
<rect x="547.79" y="190.23" width="4.6" height="4.6"/>
<rect x="550.11" y="189.35" width="4.6" height="4.6"/>
<rect x="552.43" y="185.05" width="4.6" height="4.6"/>
<rect x="554.75" y="181.76" width="4.6" height="4.6"/>
<rect x="557.07" y="178.62" width="4.6" height="4.6"/>
<rect x="559.38" y="174.50" width="4.6" height="4.6"/>
<rect x="561.70" y="169.94" width="4.6" height="4.6"/>
<rect x="564.02" y="162.88" width="4.6" height="4.6"/>
<rect x="566.34" y="152.01" width="4.6" height="4.6"/>
<rect x="568.66" y="140.10" width="4.6" height="4.6"/>
<rect x="570.98" y="131.12" width="4.6" height="4.6"/>
<rect x="573.29" y="123.48" width="4.6" height="4.6"/>
<rect x="575.61" y="114.41" width="4.6" height="4.6"/>
<rect x="577.93" y="106.54" width="4.6" height="4.6"/>
<rect x="580.25" y="99.99" width="4.6" height="4.6"/>
<rect x="582.57" y="94.33" width="4.6" height="4.6"/>
<rect x="585.60" y="87.72" width="4.6" height="4.6"/>
<rect x="589.71" y="79.38" width="4.6" height="4.6"/>
<rect x="594.95" y="69.82" width="4.6" height="4.6"/>
<rect x="600.20" y="63.49" width="4.6" height="4.6"/>
<rect x="605.44" y="59.16" width="4.6" height="4.6"/>
<rect x="610.69" y="55.39" width="4.6" height="4.6"/>
<rect x="615.93" y="51.57" width="4.6" height="4.6"/>
<rect x="621.17" y="50.62" width="4.6" height="4.6"/>
<rect x="626.42" y="52.33" width="4.6" height="4.6"/>
<rect x="631.66" y="52.10" width="4.6" height="4.6"/>
<rect x="636.91" y="53.25" width="4.6" height="4.6"/>
<rect x="642.15" y="52.48" width="4.6" height="4.6"/>
<rect x="646.54" y="50.98" width="4.6" height="4.6"/>
<rect x="649.91" y="51.02" width="4.6" height="4.6"/>
<rect x="653.22" y="51.40" width="4.6" height="4.6"/>
<rect x="656.53" y="50.24" width="4.6" height="4.6"/>
<rect x="659.85" y="52.87" width="4.6" height="4.6"/>
<rect x="663.16" y="52.38" width="4.6" height="4.6"/>
<rect x="666.47" y="51.98" width="4.6" height="4.6"/>
<rect x="669.78" y="52.95" width="4.6" height="4.6"/>
<rect x="673.09" y="53.15" width="4.6" height="4.6"/>
<rect x="676.41" y="54.95" width="4.6" height="4.6"/>
<rect x="679.72" y="56.75" width="4.6" height="4.6"/>
<rect x="683.03" y="57.18" width="4.6" height="4.6"/>
<rect x="686.34" y="59.76" width="4.6" height="4.6"/>
<rect x="689.65" y="61.50" width="4.6" height="4.6"/>
<rect x="692.97" y="61.70" width="4.6" height="4.6"/>
<rect x="693.70" y="62.37" width="4.6" height="4.6"/>
</g>
<path d="M696.00 64.48L694.19 64.80L690.88 62.15L687.57 60.86L684.25 59.94L680.94 61.16L677.63 57.33L674.32 54.57L671.01 54.73L667.69 55.75L664.38 54.32L661.07 52.74L657.76 58.37L654.45 54.05L651.13 52.96L647.51 52.73L642.98 51.06L638.01 51.99L633.04 53.34L628.07 53.35L623.10 52.56L618.14 54.73L613.17 53.91L608.20 52.36L603.23 50.64L598.26 54.13L593.30 54.04L589.00 53.76L585.75 51.99L583.29 54.33L580.97 51.95L578.65 56.03L576.34 54.83L574.02 54.94L571.70 53.39L569.38 53.02L567.06 57.27L564.74 56.37L562.43 54.43L560.11 56.22L557.79 57.87L555.47 55.96L553.15 60.40L550.83 64.47L548.51 69.42L546.20 75.40L543.88 81.18L541.56 87.56L539.24 94.66L536.92 100.94L534.60 107.50L531.87 116.18L527.86 130.37L522.89 143.89L517.92 153.02L512.96 161.27L507.99 168.00L503.02 172.54L498.05 176.49L493.08 180.00L488.12 182.31L483.15 183.11L478.18 183.66L473.54 185.29L469.68 185.17L466.37 184.17L463.06 185.44L459.74 186.09L456.43 185.19L453.12 184.66L449.81 185.03L446.50 184.83L443.18 183.97L439.87 182.44L436.56 182.19L433.25 181.20L429.94 180.28L426.62 179.31L423.31 178.26L420.00 177.14L420.00 179.38L423.31 182.07L426.62 185.04L429.94 185.50L433.25 188.44L436.56 190.86L439.87 191.53L443.18 192.44L446.50 191.93L449.81 196.55L453.12 196.27L456.43 195.57L459.74 190.87L463.06 193.46L466.37 195.21L469.68 193.86L473.54 191.65L478.18 195.41L483.15 195.63L488.12 193.04L493.08 194.22L498.05 193.92L503.02 195.86L507.99 191.87L512.96 192.22L517.92 194.10L522.89 193.90L527.86 198.29L531.87 193.67L534.60 194.77L536.92 193.48L539.24 192.79L541.56 194.15L543.88 195.98L546.20 192.05L548.51 193.19L550.83 191.80L553.15 191.49L555.47 190.28L557.79 191.80L560.11 186.24L562.43 185.14L564.74 181.59L567.06 176.48L569.38 169.47L571.70 161.92L574.02 156.65L576.34 151.02L578.65 143.83L580.97 135.02L583.29 126.55L585.75 120.91L589.00 111.99L593.30 102.51L598.26 91.88L603.23 83.26L608.20 76.21L613.17 71.03L618.14 66.30L623.10 62.95L628.07 57.94L633.04 53.24L638.01 52.03L642.98 52.64L647.51 53.36L651.13 55.45L654.45 51.88L657.76 54.31L661.07 54.49L664.38 55.22L667.69 55.13L671.01 56.66L674.32 56.84L677.63 59.23L680.94 58.89L684.25 56.40L687.57 60.77L690.88 62.37L694.19 63.38L696.00 64.26" fill="none" stroke="#d84040" stroke-width="0.9"/>
<g fill="#e81010">
<circle cx="696.00" cy="64.48" r="2.45"/>
<circle cx="694.19" cy="64.80" r="2.45"/>
<circle cx="690.88" cy="62.15" r="2.45"/>
<circle cx="687.57" cy="60.86" r="2.45"/>
<circle cx="684.25" cy="59.94" r="2.45"/>
<circle cx="680.94" cy="61.16" r="2.45"/>
<circle cx="677.63" cy="57.33" r="2.45"/>
<circle cx="674.32" cy="54.57" r="2.45"/>
<circle cx="671.01" cy="54.73" r="2.45"/>
<circle cx="667.69" cy="55.75" r="2.45"/>
<circle cx="664.38" cy="54.32" r="2.45"/>
<circle cx="661.07" cy="52.74" r="2.45"/>
<circle cx="657.76" cy="58.37" r="2.45"/>
<circle cx="654.45" cy="54.05" r="2.45"/>
<circle cx="651.13" cy="52.96" r="2.45"/>
<circle cx="647.51" cy="52.73" r="2.45"/>
<circle cx="642.98" cy="51.06" r="2.45"/>
<circle cx="638.01" cy="51.99" r="2.45"/>
<circle cx="633.04" cy="53.34" r="2.45"/>
<circle cx="628.07" cy="53.35" r="2.45"/>
<circle cx="623.10" cy="52.56" r="2.45"/>
<circle cx="618.14" cy="54.73" r="2.45"/>
<circle cx="613.17" cy="53.91" r="2.45"/>
<circle cx="608.20" cy="52.36" r="2.45"/>
<circle cx="603.23" cy="50.64" r="2.45"/>
<circle cx="598.26" cy="54.13" r="2.45"/>
<circle cx="593.30" cy="54.04" r="2.45"/>
<circle cx="589.00" cy="53.76" r="2.45"/>
<circle cx="585.75" cy="51.99" r="2.45"/>
<circle cx="583.29" cy="54.33" r="2.45"/>
<circle cx="580.97" cy="51.95" r="2.45"/>
<circle cx="578.65" cy="56.03" r="2.45"/>
<circle cx="576.34" cy="54.83" r="2.45"/>
<circle cx="574.02" cy="54.94" r="2.45"/>
<circle cx="571.70" cy="53.39" r="2.45"/>
<circle cx="569.38" cy="53.02" r="2.45"/>
<circle cx="567.06" cy="57.27" r="2.45"/>
<circle cx="564.74" cy="56.37" r="2.45"/>
<circle cx="562.43" cy="54.43" r="2.45"/>
<circle cx="560.11" cy="56.22" r="2.45"/>
<circle cx="557.79" cy="57.87" r="2.45"/>
<circle cx="555.47" cy="55.96" r="2.45"/>
<circle cx="553.15" cy="60.40" r="2.45"/>
<circle cx="550.83" cy="64.47" r="2.45"/>
<circle cx="548.51" cy="69.42" r="2.45"/>
<circle cx="546.20" cy="75.40" r="2.45"/>
<circle cx="543.88" cy="81.18" r="2.45"/>
<circle cx="541.56" cy="87.56" r="2.45"/>
<circle cx="539.24" cy="94.66" r="2.45"/>
<circle cx="536.92" cy="100.94" r="2.45"/>
<circle cx="534.60" cy="107.50" r="2.45"/>
<circle cx="531.87" cy="116.18" r="2.45"/>
<circle cx="527.86" cy="130.37" r="2.45"/>
<circle cx="522.89" cy="143.89" r="2.45"/>
<circle cx="517.92" cy="153.02" r="2.45"/>
<circle cx="512.96" cy="161.27" r="2.45"/>
<circle cx="507.99" cy="168.00" r="2.45"/>
<circle cx="503.02" cy="172.54" r="2.45"/>
<circle cx="498.05" cy="176.49" r="2.45"/>
<circle cx="493.08" cy="180.00" r="2.45"/>
<circle cx="488.12" cy="182.31" r="2.45"/>
<circle cx="483.15" cy="183.11" r="2.45"/>
<circle cx="478.18" cy="183.66" r="2.45"/>
<circle cx="473.54" cy="185.29" r="2.45"/>
<circle cx="469.68" cy="185.17" r="2.45"/>
<circle cx="466.37" cy="184.17" r="2.45"/>
<circle cx="463.06" cy="185.44" r="2.45"/>
<circle cx="459.74" cy="186.09" r="2.45"/>
<circle cx="456.43" cy="185.19" r="2.45"/>
<circle cx="453.12" cy="184.66" r="2.45"/>
<circle cx="449.81" cy="185.03" r="2.45"/>
<circle cx="446.50" cy="184.83" r="2.45"/>
<circle cx="443.18" cy="183.97" r="2.45"/>
<circle cx="439.87" cy="182.44" r="2.45"/>
<circle cx="436.56" cy="182.19" r="2.45"/>
<circle cx="433.25" cy="181.20" r="2.45"/>
<circle cx="429.94" cy="180.28" r="2.45"/>
<circle cx="426.62" cy="179.31" r="2.45"/>
<circle cx="423.31" cy="178.26" r="2.45"/>
<circle cx="420.00" cy="177.14" r="2.45"/>
<circle cx="420.00" cy="179.38" r="2.45"/>
<circle cx="423.31" cy="182.07" r="2.45"/>
<circle cx="426.62" cy="185.04" r="2.45"/>
<circle cx="429.94" cy="185.50" r="2.45"/>
<circle cx="433.25" cy="188.44" r="2.45"/>
<circle cx="436.56" cy="190.86" r="2.45"/>
<circle cx="439.87" cy="191.53" r="2.45"/>
<circle cx="443.18" cy="192.44" r="2.45"/>
<circle cx="446.50" cy="191.93" r="2.45"/>
<circle cx="449.81" cy="196.55" r="2.45"/>
<circle cx="453.12" cy="196.27" r="2.45"/>
<circle cx="456.43" cy="195.57" r="2.45"/>
<circle cx="459.74" cy="190.87" r="2.45"/>
<circle cx="463.06" cy="193.46" r="2.45"/>
<circle cx="466.37" cy="195.21" r="2.45"/>
<circle cx="469.68" cy="193.86" r="2.45"/>
<circle cx="473.54" cy="191.65" r="2.45"/>
<circle cx="478.18" cy="195.41" r="2.45"/>
<circle cx="483.15" cy="195.63" r="2.45"/>
<circle cx="488.12" cy="193.04" r="2.45"/>
<circle cx="493.08" cy="194.22" r="2.45"/>
<circle cx="498.05" cy="193.92" r="2.45"/>
<circle cx="503.02" cy="195.86" r="2.45"/>
<circle cx="507.99" cy="191.87" r="2.45"/>
<circle cx="512.96" cy="192.22" r="2.45"/>
<circle cx="517.92" cy="194.10" r="2.45"/>
<circle cx="522.89" cy="193.90" r="2.45"/>
<circle cx="527.86" cy="198.29" r="2.45"/>
<circle cx="531.87" cy="193.67" r="2.45"/>
<circle cx="534.60" cy="194.77" r="2.45"/>
<circle cx="536.92" cy="193.48" r="2.45"/>
<circle cx="539.24" cy="192.79" r="2.45"/>
<circle cx="541.56" cy="194.15" r="2.45"/>
<circle cx="543.88" cy="195.98" r="2.45"/>
<circle cx="546.20" cy="192.05" r="2.45"/>
<circle cx="548.51" cy="193.19" r="2.45"/>
<circle cx="550.83" cy="191.80" r="2.45"/>
<circle cx="553.15" cy="191.49" r="2.45"/>
<circle cx="555.47" cy="190.28" r="2.45"/>
<circle cx="557.79" cy="191.80" r="2.45"/>
<circle cx="560.11" cy="186.24" r="2.45"/>
<circle cx="562.43" cy="185.14" r="2.45"/>
<circle cx="564.74" cy="181.59" r="2.45"/>
<circle cx="567.06" cy="176.48" r="2.45"/>
<circle cx="569.38" cy="169.47" r="2.45"/>
<circle cx="571.70" cy="161.92" r="2.45"/>
<circle cx="574.02" cy="156.65" r="2.45"/>
<circle cx="576.34" cy="151.02" r="2.45"/>
<circle cx="578.65" cy="143.83" r="2.45"/>
<circle cx="580.97" cy="135.02" r="2.45"/>
<circle cx="583.29" cy="126.55" r="2.45"/>
<circle cx="585.75" cy="120.91" r="2.45"/>
<circle cx="589.00" cy="111.99" r="2.45"/>
<circle cx="593.30" cy="102.51" r="2.45"/>
<circle cx="598.26" cy="91.88" r="2.45"/>
<circle cx="603.23" cy="83.26" r="2.45"/>
<circle cx="608.20" cy="76.21" r="2.45"/>
<circle cx="613.17" cy="71.03" r="2.45"/>
<circle cx="618.14" cy="66.30" r="2.45"/>
<circle cx="623.10" cy="62.95" r="2.45"/>
<circle cx="628.07" cy="57.94" r="2.45"/>
<circle cx="633.04" cy="53.24" r="2.45"/>
<circle cx="638.01" cy="52.03" r="2.45"/>
<circle cx="642.98" cy="52.64" r="2.45"/>
<circle cx="647.51" cy="53.36" r="2.45"/>
<circle cx="651.13" cy="55.45" r="2.45"/>
<circle cx="654.45" cy="51.88" r="2.45"/>
<circle cx="657.76" cy="54.31" r="2.45"/>
<circle cx="661.07" cy="54.49" r="2.45"/>
<circle cx="664.38" cy="55.22" r="2.45"/>
<circle cx="667.69" cy="55.13" r="2.45"/>
<circle cx="671.01" cy="56.66" r="2.45"/>
<circle cx="674.32" cy="56.84" r="2.45"/>
<circle cx="677.63" cy="59.23" r="2.45"/>
<circle cx="680.94" cy="58.89" r="2.45"/>
<circle cx="684.25" cy="56.40" r="2.45"/>
<circle cx="687.57" cy="60.77" r="2.45"/>
<circle cx="690.88" cy="62.37" r="2.45"/>
<circle cx="694.19" cy="63.38" r="2.45"/>
<circle cx="696.00" cy="64.26" r="2.45"/>
</g>
<path d="M696.00 67.77L693.84 66.58L690.53 64.37L687.22 63.16L683.91 61.84L680.59 58.58L677.28 60.36L673.97 58.19L670.66 58.45L667.35 53.97L664.03 59.72L660.72 56.84L657.41 56.32L654.10 53.99L650.79 54.00L647.23 52.43L643.12 57.86L638.70 53.43L634.29 55.30L629.87 55.93L625.46 53.64L621.04 56.33L616.62 58.46L612.21 55.28L607.79 57.39L603.38 55.81L598.96 53.93L594.54 54.06L590.33 51.72L586.97 55.08L584.28 57.59L581.96 56.17L579.65 56.51L577.33 57.11L575.01 54.07L572.69 56.13L570.37 58.66L568.05 53.73L565.73 55.30L563.42 54.50L561.10 55.04L558.78 54.13L556.46 55.85L554.14 55.29L551.82 56.80L549.51 54.53L547.19 52.26L544.87 55.72L542.55 57.88L540.23 62.13L537.91 64.86L535.60 68.97L533.28 73.15L530.21 77.35L526.11 85.18L521.69 95.38L517.27 106.42L512.86 117.42L508.44 128.25L504.03 137.46L499.61 146.08L495.19 153.81L490.78 161.28L486.36 170.45L481.95 177.72L477.53 181.35L473.36 185.91L469.68 187.44L466.37 188.68L463.06 186.90L459.74 189.67L456.43 188.93L453.12 188.36L449.81 189.48L446.50 189.00L443.18 187.80L439.87 188.93L436.56 187.52L433.25 185.93L429.94 184.87L426.62 184.52L423.31 184.84L420.00 183.34L420.00 184.45L423.31 186.49L426.62 189.39L429.94 192.98L433.25 190.89L436.56 194.92L439.87 197.28L443.18 197.32L446.50 192.78L449.81 196.42L453.12 194.74L456.43 199.02L459.74 195.81L463.06 199.58L466.37 198.62L469.68 192.41L473.36 196.59L477.53 199.70L481.95 198.79L486.36 197.87L490.78 195.81L495.19 199.89L499.61 202.90L504.03 199.42L508.44 198.71L512.86 198.49L517.27 195.61L521.69 198.00L526.11 196.81L530.21 201.38L533.28 196.68L535.60 193.75L537.91 196.91L540.23 198.15L542.55 198.38L544.87 194.49L547.19 200.96L549.51 198.97L551.82 197.36L554.14 196.26L556.46 198.53L558.78 196.14L561.10 196.89L563.42 195.33L565.73 195.31L568.05 196.92L570.37 192.95L572.69 188.33L575.01 188.71L577.33 184.72L579.65 181.09L581.96 177.13L584.28 172.52L586.97 166.56L590.33 159.96L594.54 151.80L598.96 141.25L603.38 128.82L607.79 118.01L612.21 109.74L616.62 101.90L621.04 94.81L625.46 86.66L629.87 78.05L634.29 70.06L638.70 60.54L643.12 60.61L647.23 61.58L650.79 59.73L654.10 58.84L657.41 60.01L660.72 59.17L664.03 60.98L667.35 63.98L670.66 59.30L673.97 60.25L677.28 61.87L680.59 63.04L683.91 63.37L687.22 65.75L690.53 67.00L693.84 68.16L696.00 69.12" fill="none" stroke="#4040c0" stroke-width="0.9"/>
<g fill="#1010e0">
<path d="M696.00 64.41L699.50 70.01L692.50 70.01Z"/>
<path d="M693.84 63.22L697.34 68.82L690.34 68.82Z"/>
<path d="M690.53 61.01L694.03 66.61L687.03 66.61Z"/>
<path d="M687.22 59.80L690.72 65.40L683.72 65.40Z"/>
<path d="M683.91 58.48L687.41 64.08L680.41 64.08Z"/>
<path d="M680.59 55.22L684.09 60.82L677.09 60.82Z"/>
<path d="M677.28 57.00L680.78 62.60L673.78 62.60Z"/>
<path d="M673.97 54.83L677.47 60.43L670.47 60.43Z"/>
<path d="M670.66 55.09L674.16 60.69L667.16 60.69Z"/>
<path d="M667.35 50.61L670.85 56.21L663.85 56.21Z"/>
<path d="M664.03 56.36L667.53 61.96L660.53 61.96Z"/>
<path d="M660.72 53.48L664.22 59.08L657.22 59.08Z"/>
<path d="M657.41 52.96L660.91 58.56L653.91 58.56Z"/>
<path d="M654.10 50.63L657.60 56.23L650.60 56.23Z"/>
<path d="M650.79 50.64L654.29 56.24L647.29 56.24Z"/>
<path d="M647.23 49.07L650.73 54.67L643.73 54.67Z"/>
<path d="M643.12 54.50L646.62 60.10L639.62 60.10Z"/>
<path d="M638.70 50.07L642.20 55.67L635.20 55.67Z"/>
<path d="M634.29 51.94L637.79 57.54L630.79 57.54Z"/>
<path d="M629.87 52.57L633.37 58.17L626.37 58.17Z"/>
<path d="M625.46 50.28L628.96 55.88L621.96 55.88Z"/>
<path d="M621.04 52.97L624.54 58.57L617.54 58.57Z"/>
<path d="M616.62 55.10L620.12 60.70L613.12 60.70Z"/>
<path d="M612.21 51.92L615.71 57.52L608.71 57.52Z"/>
<path d="M607.79 54.03L611.29 59.63L604.29 59.63Z"/>
<path d="M603.38 52.45L606.88 58.05L599.88 58.05Z"/>
<path d="M598.96 50.57L602.46 56.17L595.46 56.17Z"/>
<path d="M594.54 50.70L598.04 56.30L591.04 56.30Z"/>
<path d="M590.33 48.36L593.83 53.96L586.83 53.96Z"/>
<path d="M586.97 51.72L590.47 57.32L583.47 57.32Z"/>
<path d="M584.28 54.23L587.78 59.83L580.78 59.83Z"/>
<path d="M581.96 52.81L585.46 58.41L578.46 58.41Z"/>
<path d="M579.65 53.15L583.15 58.75L576.15 58.75Z"/>
<path d="M577.33 53.75L580.83 59.35L573.83 59.35Z"/>
<path d="M575.01 50.71L578.51 56.31L571.51 56.31Z"/>
<path d="M572.69 52.77L576.19 58.37L569.19 58.37Z"/>
<path d="M570.37 55.30L573.87 60.90L566.87 60.90Z"/>
<path d="M568.05 50.37L571.55 55.97L564.55 55.97Z"/>
<path d="M565.73 51.94L569.23 57.54L562.23 57.54Z"/>
<path d="M563.42 51.14L566.92 56.74L559.92 56.74Z"/>
<path d="M561.10 51.68L564.60 57.28L557.60 57.28Z"/>
<path d="M558.78 50.77L562.28 56.37L555.28 56.37Z"/>
<path d="M556.46 52.49L559.96 58.09L552.96 58.09Z"/>
<path d="M554.14 51.93L557.64 57.53L550.64 57.53Z"/>
<path d="M551.82 53.44L555.32 59.04L548.32 59.04Z"/>
<path d="M549.51 51.17L553.01 56.77L546.01 56.77Z"/>
<path d="M547.19 48.90L550.69 54.50L543.69 54.50Z"/>
<path d="M544.87 52.36L548.37 57.96L541.37 57.96Z"/>
<path d="M542.55 54.52L546.05 60.12L539.05 60.12Z"/>
<path d="M540.23 58.77L543.73 64.37L536.73 64.37Z"/>
<path d="M537.91 61.50L541.41 67.10L534.41 67.10Z"/>
<path d="M535.60 65.61L539.10 71.21L532.10 71.21Z"/>
<path d="M533.28 69.79L536.78 75.39L529.78 75.39Z"/>
<path d="M530.21 73.99L533.71 79.59L526.71 79.59Z"/>
<path d="M526.11 81.82L529.61 87.42L522.61 87.42Z"/>
<path d="M521.69 92.02L525.19 97.62L518.19 97.62Z"/>
<path d="M517.27 103.06L520.77 108.66L513.77 108.66Z"/>
<path d="M512.86 114.06L516.36 119.66L509.36 119.66Z"/>
<path d="M508.44 124.89L511.94 130.49L504.94 130.49Z"/>
<path d="M504.03 134.10L507.53 139.70L500.53 139.70Z"/>
<path d="M499.61 142.72L503.11 148.32L496.11 148.32Z"/>
<path d="M495.19 150.45L498.69 156.05L491.69 156.05Z"/>
<path d="M490.78 157.92L494.28 163.52L487.28 163.52Z"/>
<path d="M486.36 167.09L489.86 172.69L482.86 172.69Z"/>
<path d="M481.95 174.36L485.45 179.96L478.45 179.96Z"/>
<path d="M477.53 177.99L481.03 183.59L474.03 183.59Z"/>
<path d="M473.36 182.55L476.86 188.15L469.86 188.15Z"/>
<path d="M469.68 184.08L473.18 189.68L466.18 189.68Z"/>
<path d="M466.37 185.32L469.87 190.92L462.87 190.92Z"/>
<path d="M463.06 183.54L466.56 189.14L459.56 189.14Z"/>
<path d="M459.74 186.31L463.24 191.91L456.24 191.91Z"/>
<path d="M456.43 185.57L459.93 191.17L452.93 191.17Z"/>
<path d="M453.12 185.00L456.62 190.60L449.62 190.60Z"/>
<path d="M449.81 186.12L453.31 191.72L446.31 191.72Z"/>
<path d="M446.50 185.64L450.00 191.24L443.00 191.24Z"/>
<path d="M443.18 184.44L446.68 190.04L439.68 190.04Z"/>
<path d="M439.87 185.57L443.37 191.17L436.37 191.17Z"/>
<path d="M436.56 184.16L440.06 189.76L433.06 189.76Z"/>
<path d="M433.25 182.57L436.75 188.17L429.75 188.17Z"/>
<path d="M429.94 181.51L433.44 187.11L426.44 187.11Z"/>
<path d="M426.62 181.16L430.12 186.76L423.12 186.76Z"/>
<path d="M423.31 181.48L426.81 187.08L419.81 187.08Z"/>
<path d="M420.00 179.98L423.50 185.58L416.50 185.58Z"/>
<path d="M420.00 181.09L423.50 186.69L416.50 186.69Z"/>
<path d="M423.31 183.13L426.81 188.73L419.81 188.73Z"/>
<path d="M426.62 186.03L430.12 191.63L423.12 191.63Z"/>
<path d="M429.94 189.62L433.44 195.22L426.44 195.22Z"/>
<path d="M433.25 187.53L436.75 193.13L429.75 193.13Z"/>
<path d="M436.56 191.56L440.06 197.16L433.06 197.16Z"/>
<path d="M439.87 193.92L443.37 199.52L436.37 199.52Z"/>
<path d="M443.18 193.96L446.68 199.56L439.68 199.56Z"/>
<path d="M446.50 189.42L450.00 195.02L443.00 195.02Z"/>
<path d="M449.81 193.06L453.31 198.66L446.31 198.66Z"/>
<path d="M453.12 191.38L456.62 196.98L449.62 196.98Z"/>
<path d="M456.43 195.66L459.93 201.26L452.93 201.26Z"/>
<path d="M459.74 192.45L463.24 198.05L456.24 198.05Z"/>
<path d="M463.06 196.22L466.56 201.82L459.56 201.82Z"/>
<path d="M466.37 195.26L469.87 200.86L462.87 200.86Z"/>
<path d="M469.68 189.05L473.18 194.65L466.18 194.65Z"/>
<path d="M473.36 193.23L476.86 198.83L469.86 198.83Z"/>
<path d="M477.53 196.34L481.03 201.94L474.03 201.94Z"/>
<path d="M481.95 195.43L485.45 201.03L478.45 201.03Z"/>
<path d="M486.36 194.51L489.86 200.11L482.86 200.11Z"/>
<path d="M490.78 192.45L494.28 198.05L487.28 198.05Z"/>
<path d="M495.19 196.53L498.69 202.13L491.69 202.13Z"/>
<path d="M499.61 199.54L503.11 205.14L496.11 205.14Z"/>
<path d="M504.03 196.06L507.53 201.66L500.53 201.66Z"/>
<path d="M508.44 195.35L511.94 200.95L504.94 200.95Z"/>
<path d="M512.86 195.13L516.36 200.73L509.36 200.73Z"/>
<path d="M517.27 192.25L520.77 197.85L513.77 197.85Z"/>
<path d="M521.69 194.64L525.19 200.24L518.19 200.24Z"/>
<path d="M526.11 193.45L529.61 199.05L522.61 199.05Z"/>
<path d="M530.21 198.02L533.71 203.62L526.71 203.62Z"/>
<path d="M533.28 193.32L536.78 198.92L529.78 198.92Z"/>
<path d="M535.60 190.39L539.10 195.99L532.10 195.99Z"/>
<path d="M537.91 193.55L541.41 199.15L534.41 199.15Z"/>
<path d="M540.23 194.79L543.73 200.39L536.73 200.39Z"/>
<path d="M542.55 195.02L546.05 200.62L539.05 200.62Z"/>
<path d="M544.87 191.13L548.37 196.73L541.37 196.73Z"/>
<path d="M547.19 197.60L550.69 203.20L543.69 203.20Z"/>
<path d="M549.51 195.61L553.01 201.21L546.01 201.21Z"/>
<path d="M551.82 194.00L555.32 199.60L548.32 199.60Z"/>
<path d="M554.14 192.90L557.64 198.50L550.64 198.50Z"/>
<path d="M556.46 195.17L559.96 200.77L552.96 200.77Z"/>
<path d="M558.78 192.78L562.28 198.38L555.28 198.38Z"/>
<path d="M561.10 193.53L564.60 199.13L557.60 199.13Z"/>
<path d="M563.42 191.97L566.92 197.57L559.92 197.57Z"/>
<path d="M565.73 191.95L569.23 197.55L562.23 197.55Z"/>
<path d="M568.05 193.56L571.55 199.16L564.55 199.16Z"/>
<path d="M570.37 189.59L573.87 195.19L566.87 195.19Z"/>
<path d="M572.69 184.97L576.19 190.57L569.19 190.57Z"/>
<path d="M575.01 185.35L578.51 190.95L571.51 190.95Z"/>
<path d="M577.33 181.36L580.83 186.96L573.83 186.96Z"/>
<path d="M579.65 177.73L583.15 183.33L576.15 183.33Z"/>
<path d="M581.96 173.77L585.46 179.37L578.46 179.37Z"/>
<path d="M584.28 169.16L587.78 174.76L580.78 174.76Z"/>
<path d="M586.97 163.20L590.47 168.80L583.47 168.80Z"/>
<path d="M590.33 156.60L593.83 162.20L586.83 162.20Z"/>
<path d="M594.54 148.44L598.04 154.04L591.04 154.04Z"/>
<path d="M598.96 137.89L602.46 143.49L595.46 143.49Z"/>
<path d="M603.38 125.46L606.88 131.06L599.88 131.06Z"/>
<path d="M607.79 114.65L611.29 120.25L604.29 120.25Z"/>
<path d="M612.21 106.38L615.71 111.98L608.71 111.98Z"/>
<path d="M616.62 98.54L620.12 104.14L613.12 104.14Z"/>
<path d="M621.04 91.45L624.54 97.05L617.54 97.05Z"/>
<path d="M625.46 83.30L628.96 88.90L621.96 88.90Z"/>
<path d="M629.87 74.69L633.37 80.29L626.37 80.29Z"/>
<path d="M634.29 66.70L637.79 72.30L630.79 72.30Z"/>
<path d="M638.70 57.18L642.20 62.78L635.20 62.78Z"/>
<path d="M643.12 57.25L646.62 62.85L639.62 62.85Z"/>
<path d="M647.23 58.22L650.73 63.82L643.73 63.82Z"/>
<path d="M650.79 56.37L654.29 61.97L647.29 61.97Z"/>
<path d="M654.10 55.48L657.60 61.08L650.60 61.08Z"/>
<path d="M657.41 56.65L660.91 62.25L653.91 62.25Z"/>
<path d="M660.72 55.81L664.22 61.41L657.22 61.41Z"/>
<path d="M664.03 57.62L667.53 63.22L660.53 63.22Z"/>
<path d="M667.35 60.62L670.85 66.22L663.85 66.22Z"/>
<path d="M670.66 55.94L674.16 61.54L667.16 61.54Z"/>
<path d="M673.97 56.89L677.47 62.49L670.47 62.49Z"/>
<path d="M677.28 58.51L680.78 64.11L673.78 64.11Z"/>
<path d="M680.59 59.68L684.09 65.28L677.09 65.28Z"/>
<path d="M683.91 60.01L687.41 65.61L680.41 65.61Z"/>
<path d="M687.22 62.39L690.72 67.99L683.72 67.99Z"/>
<path d="M690.53 63.64L694.03 69.24L687.03 69.24Z"/>
<path d="M693.84 64.80L697.34 70.40L690.34 70.40Z"/>
<path d="M696.00 65.76L699.50 71.36L692.50 71.36Z"/>
</g>
</g>
<line x1="70" y1="20" x2="101.2" y2="20" stroke="#404040" stroke-width="1"/>
<g fill="#fff" stroke="#111" stroke-width="1"><rect x="82.20" y="17.70" width="4.6" height="4.6"/></g>
<text x="101.2" y="25.0" font-weight="bold" font-size="14.2">FePt4nm/Fe6nm</text>
<line x1="70" y1="38.2" x2="101.2" y2="38.2" stroke="#d84040" stroke-width="1"/>
<g fill="#e81010"><circle cx="84.50" cy="38.20" r="2.45"/></g>
<text x="101.2" y="43.2" font-weight="bold" font-size="14.2">FePt4nm/Fe4nm</text>
<line x1="70" y1="56" x2="101.2" y2="56" stroke="#4040c0" stroke-width="1"/>
<g fill="#1010e0"><path d="M84.50 52.64L88.00 58.24L81.00 58.24Z"/></g>
<text x="101.2" y="61.0" font-weight="bold" font-size="14.2">FePt4nm</text>
<line x1="420" y1="22.6" x2="451" y2="22.6" stroke="#404040" stroke-width="1"/>
<g fill="#fff" stroke="#111" stroke-width="1"><rect x="432.00" y="20.30" width="4.6" height="4.6"/></g>
<text x="451" y="27.6" font-weight="bold" font-size="13.85">FePt4nm/Fe6nm</text>
<line x1="420" y1="40.3" x2="451" y2="40.3" stroke="#d84040" stroke-width="1"/>
<g fill="#e81010"><circle cx="434.30" cy="40.30" r="2.45"/></g>
<text x="451" y="45.3" font-weight="bold" font-size="13.85">FePt4nm/Fe4nm</text>
<line x1="420" y1="58.4" x2="451" y2="58.4" stroke="#4040c0" stroke-width="1"/>
<g fill="#1010e0"><path d="M434.30 55.04L437.80 60.64L430.80 60.64Z"/></g>
<text x="451" y="63.4" font-weight="bold" font-size="13.85">FePt4nm</text>
<text x="289.3" y="223" font-weight="bold" font-size="35.6">(a)</text>
<text x="638.3" y="223" font-weight="bold" font-size="35.6">(b)</text>
<text x="210.3" y="282.2" text-anchor="middle" font-size="20.6" stroke="#000" stroke-width="0.65">H(kOe)</text>
<text x="557.8" y="279.3" text-anchor="middle" font-size="20.6" stroke="#000" stroke-width="0.9">H(kOe)</text>
<text transform="translate(18.8,164.5) rotate(-90)" font-size="20.6" stroke="#000" stroke-width="0.3">M/M<tspan font-size="15" dy="7.3" dx="1.2">s</tspan></text>
<text transform="translate(375.5,137.1) rotate(-90)" font-size="20.6" stroke="#000" stroke-width="0.3">M/M<tspan font-size="15" dy="7.3" dx="1.2">s</tspan></text>
</svg></body></html>
